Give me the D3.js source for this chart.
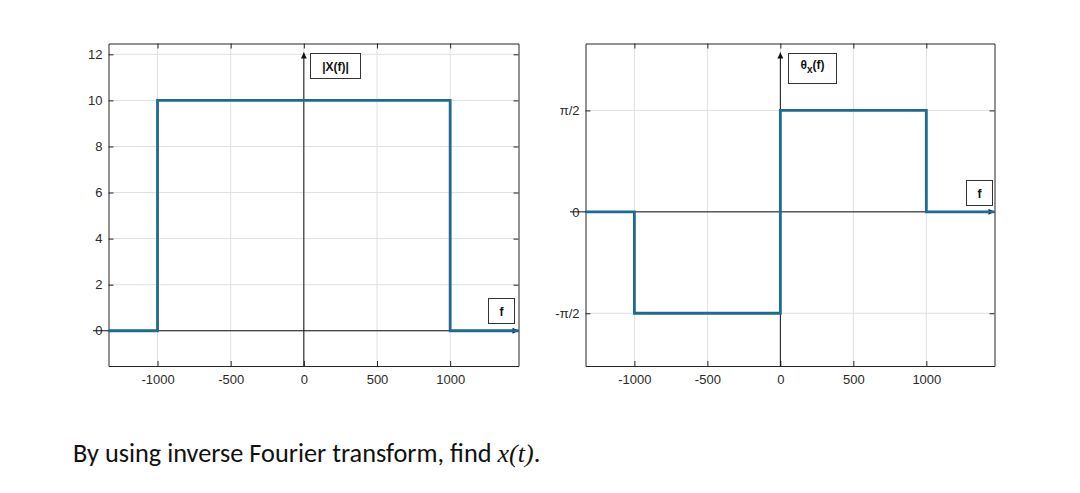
<!DOCTYPE html>
<html>
<head>
<meta charset="utf-8">
<script src="https://cdn.jsdelivr.net/npm/d3@7"></script>
<style>
  html, body { margin: 0; padding: 0; background: #fff; }
  svg { display: block; }
</style>
</head>
<body>
<svg id="chart" width="1080" height="493"></svg>
<script>
// ---------- data ----------
const freqDomain = [-1335, 1467];
const xTicks = [-1000, -500, 0, 500, 1000];

// magnitude |X(f)| (step function, value holds until next breakpoint)
const magFreq  = [-1335, -1000, 1000, 1467];
const magValue = [0, 10, 0, 0];
const magYTicks = [0, 2, 4, 6, 8, 10, 12];
const magYDomain = [-1.53, 12.47];

// phase theta_x(f), in units of pi/2
const phaseFreq  = [-1335, -1000, 0, 1000, 1467];
const phaseValue = [0, -1, 1, 0, 0];
const phaseYTicks = [-1, 0, 1];
const phaseYTickLabels = ["-\u03C0/2", "0", "\u03C0/2"];
const phaseYDomain = [-1.52, 1.66];

const caption = "By using inverse Fourier transform, find ";
const captionMath = "x(t)";

// ---------- drawing ----------
const svg = d3.select("#chart");
const defs = svg.append("defs");
defs.append("marker")
  .attr("id", "arrow")
  .attr("viewBox", "0 0 10 10")
  .attr("refX", 10).attr("refY", 5)
  .attr("markerWidth", 7).attr("markerHeight", 6)
  .attr("markerUnits", "userSpaceOnUse")
  .attr("orient", "auto")
  .append("path").attr("d", "M0,0 L10,5 L0,10 Z").attr("fill", "#111");

const lineColor = "#1d6a93";
const boxColor = "#262626";
const gridColor = "#e0e0e0";
const tickFont = "'Liberation Sans', Arial, sans-serif";

function panel(opts) {
  const { left, right, top, bottom, yDomain, yTicks, yFmt, freqs, values, yLabelBox, fBox, axisLineStart } = opts;
  const g = svg.append("g");
  const x = d3.scaleLinear().domain(freqDomain).range([left, right]);
  const y = d3.scaleLinear().domain(yDomain).range([bottom, top]);

  // grid
  g.append("g").selectAll("line").data(xTicks).join("line")
    .attr("x1", d => x(d)).attr("x2", d => x(d))
    .attr("y1", top).attr("y2", bottom)
    .attr("stroke", gridColor).attr("stroke-width", 1);
  g.append("g").selectAll("line").data(yTicks).join("line")
    .attr("x1", left).attr("x2", right)
    .attr("y1", d => y(d)).attr("y2", d => y(d))
    .attr("stroke", gridColor).attr("stroke-width", 1);

  // axes with inner ticks on all four sides
  const tickLen = 5;
  const axB = d3.axisBottom(x).tickValues(xTicks).tickSizeInner(-tickLen).tickSizeOuter(0).tickPadding(9).tickFormat(d => String(d));
  const axT = d3.axisTop(x).tickValues(xTicks).tickSizeInner(-tickLen).tickSizeOuter(0).tickFormat("");
  const axL = d3.axisLeft(y).tickValues(yTicks).tickSizeInner(-tickLen).tickSizeOuter(0).tickPadding(6).tickFormat(yFmt);
  const axR = d3.axisRight(y).tickValues(yTicks).tickSizeInner(-tickLen).tickSizeOuter(0).tickFormat("");
  const styleAxis = sel => {
    sel.attr("font-size", null).attr("font-family", null);
    sel.selectAll("path.domain").attr("stroke", boxColor).attr("stroke-width", 1);
    sel.selectAll(".tick line").attr("stroke", boxColor);
    sel.selectAll("text").attr("fill", "#2a2a2a")
      .attr("font-family", tickFont).attr("font-size", 13);
  };
  g.append("g").attr("transform", `translate(0,${bottom})`).call(axB).call(styleAxis);
  g.append("g").attr("transform", `translate(0,${top})`).call(axT).call(styleAxis);
  g.append("g").attr("transform", `translate(${left},0)`).call(axL).call(styleAxis);
  g.append("g").attr("transform", `translate(${right},0)`).call(axR).call(styleAxis);

  // coordinate axes with arrows
  g.append("line")
    .attr("x1", axisLineStart).attr("x2", right)
    .attr("y1", y(0)).attr("y2", y(0))
    .attr("stroke", "#111").attr("stroke-width", 1)
    .attr("marker-end", "url(#arrow)");
  g.append("line")
    .attr("x1", x(0)).attr("x2", x(0))
    .attr("y1", bottom).attr("y2", top + 9)
    .attr("stroke", "#111").attr("stroke-width", 1)
    .attr("marker-end", "url(#arrow)");

  // the step curve
  const pts = freqs.map((f, i) => [f, values[i]]);
  g.append("path").datum(pts)
    .attr("d", d3.line().x(d => x(d[0])).y(d => y(d[1])).curve(d3.curveStepAfter))
    .attr("fill", "none").attr("stroke", lineColor).attr("stroke-width", 2.8)
    .attr("stroke-linejoin", "miter");

  // label boxes
  function labelBox(b, build) {
    g.append("rect").attr("x", b.x).attr("y", b.y).attr("width", b.w).attr("height", b.h)
      .attr("fill", "#fff").attr("stroke", "#333").attr("stroke-width", 1);
    const t = g.append("text").attr("x", b.x + b.w / 2).attr("y", b.y + b.h / 2 + 4.5)
      .attr("text-anchor", "middle")
      .attr("font-family", tickFont)
      .attr("font-size", 12).attr("font-weight", "bold").attr("fill", "#111");
    build(t);
  }
  labelBox(yLabelBox, yLabelBox.build);
  labelBox(fBox, t => t.text("f"));
}

panel({
  left: 108.5, right: 518.5, top: 43.5, bottom: 366,
  yDomain: magYDomain, yTicks: magYTicks, yFmt: d => String(d),
  freqs: magFreq, values: magValue,
  axisLineStart: 93,
  yLabelBox: { x: 310.5, y: 53.5, w: 50, h: 25, build: t => t.text("|X(f)|") },
  fBox: { x: 488.5, y: 298.5, w: 26, h: 25 }
});

panel({
  left: 585.5, right: 994.5, top: 43.5, bottom: 366,
  yDomain: phaseYDomain, yTicks: phaseYTicks, yFmt: (d, i) => phaseYTickLabels[i],
  freqs: phaseFreq, values: phaseValue,
  axisLineStart: 570,
  yLabelBox: { x: 788.5, y: 53.5, w: 48, h: 30, build: t => {
    t.attr("y", 53.5 + 15);
    t.append("tspan").text("\u03B8");
    t.append("tspan").attr("dy", 4).attr("font-size", 10).text("x");
    t.append("tspan").attr("dy", -4).text("(f)");
  } },
  fBox: { x: 966.5, y: 180.5, w: 26, h: 25 }
});

// caption
const cap = svg.append("text").attr("x", 73).attr("y", 462)
  .attr("font-family", "Carlito, Calibri, Lato, 'Open Sans', sans-serif")
  .attr("font-size", 26.3).attr("fill", "#111");
cap.append("tspan").text(caption);
cap.append("tspan").attr("font-family", "'Liberation Serif', 'DejaVu Serif', serif")
  .attr("font-style", "italic").attr("font-size", 26).text(captionMath);
cap.append("tspan").text(".");
</script>
</body>
</html>
